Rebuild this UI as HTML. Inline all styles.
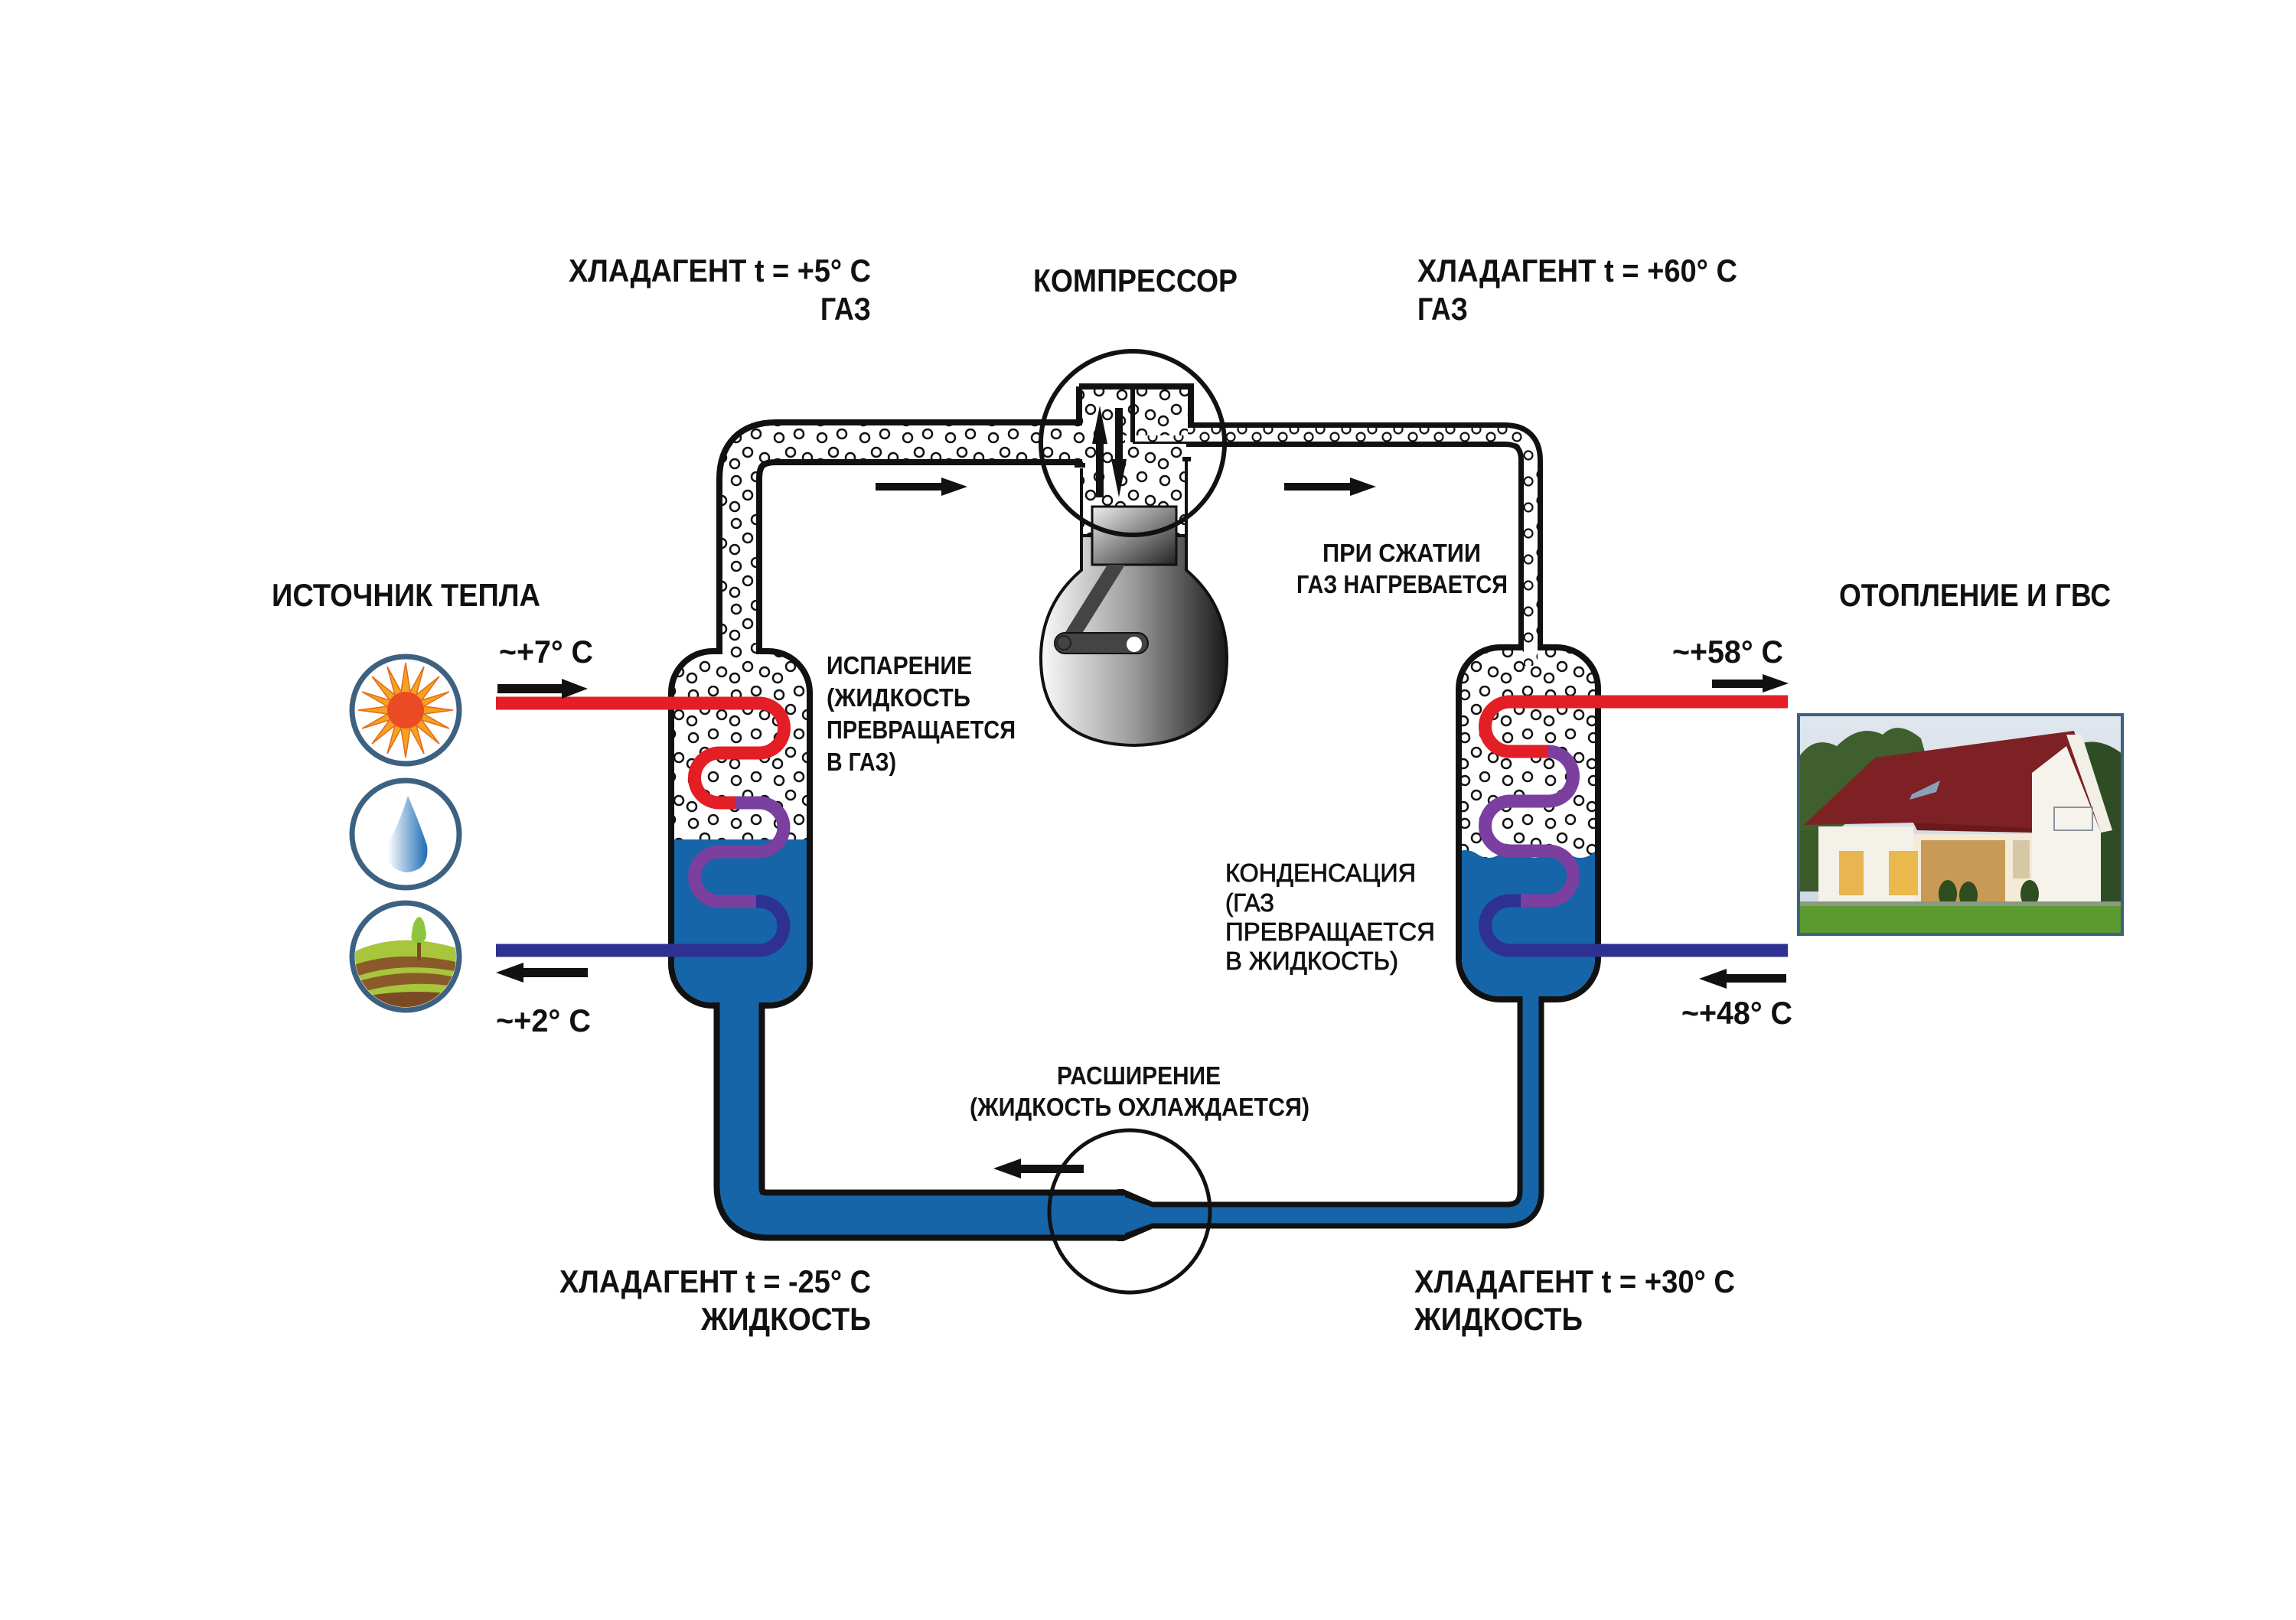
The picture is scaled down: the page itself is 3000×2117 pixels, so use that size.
<!DOCTYPE html>
<html><head><meta charset="utf-8"><style>
html,body{margin:0;padding:0;background:#fff}
svg{display:block}
text{font-family:"Liberation Sans Narrow","Liberation Sans",sans-serif;fill:#111}
.b{font-weight:bold}
</style></head><body>
<svg width="3000" height="2117" viewBox="0 0 3000 2117" xmlns="http://www.w3.org/2000/svg">
<defs>
<pattern id="bub" width="56" height="56" patternUnits="userSpaceOnUse">
<rect width="56" height="56" fill="#fff"/>
<g fill="#fff" stroke="#111" stroke-width="2.5">
<circle cx="10" cy="12" r="6"/><circle cx="36" cy="7" r="6"/><circle cx="25" cy="31" r="6"/><circle cx="47" cy="38" r="6"/><circle cx="8" cy="46" r="6"/>
</g></pattern>
<pattern id="bubs" width="34" height="34" patternUnits="userSpaceOnUse">
<rect width="34" height="34" fill="#fff"/>
<g fill="#fff" stroke="#111" stroke-width="2.2">
<circle cx="8" cy="8" r="5.5"/><circle cx="25" cy="17" r="5.5"/><circle cx="10" cy="27" r="5.5"/>
</g></pattern>
<linearGradient id="bulb" x1="0" x2="1" y1="0" y2="0"><stop offset="0" stop-color="#fafafa"/><stop offset="0.5" stop-color="#9a9a9a"/><stop offset="1" stop-color="#1a1a1a"/></linearGradient>
<linearGradient id="pist" x1="0" x2="1" y1="0" y2="1"><stop offset="0" stop-color="#eee"/><stop offset="1" stop-color="#222"/></linearGradient>
<linearGradient id="drop" x1="0" x2="1"><stop offset="0" stop-color="#fff"/><stop offset="1" stop-color="#1e6db5"/></linearGradient>
<linearGradient id="sky" x1="0" x2="0" y1="0" y2="1"><stop offset="0" stop-color="#dfe6ee"/><stop offset="1" stop-color="#cdd8e0"/></linearGradient>
<clipPath id="lv"><rect x="881" y="855" width="173" height="455" rx="50"/></clipPath>
<clipPath id="rv"><rect x="1910" y="850" width="174" height="452" rx="50"/></clipPath>
<clipPath id="ph"><rect x="2350" y="934" width="423" height="287"/></clipPath>
</defs>

<!-- gas pipes outline -->
<path d="M966 870 V626 Q966 578 1014 578 H1470" fill="none" stroke="#111" stroke-width="60"/>
<path d="M1480 568 H1966 Q2000 568 2000 602 V860" fill="none" stroke="#111" stroke-width="32"/>
<!-- liquid pipes outline -->
<path d="M966 1290 V1550 Q966 1588 1004 1588 H1468" fill="none" stroke="#111" stroke-width="67"/>
<path d="M1500 1588 H1968 Q2000 1588 2000 1556 V1290" fill="none" stroke="#111" stroke-width="35"/>
<polygon points="1460,1554 1468,1554 1505,1570 1505,1606 1468,1622 1460,1622" fill="#111"/>

<!-- vessels outline -->
<rect x="873" y="847" width="189" height="471" rx="58" fill="#111"/>
<rect x="1902" y="842" width="190" height="468" rx="58" fill="#111"/>
<!-- vessel interiors -->
<g clip-path="url(#lv)"><rect x="870" y="840" width="200" height="480" fill="url(#bub)"/><rect x="870" y="1097" width="200" height="230" fill="#1565a8"/></g>
<g clip-path="url(#rv)"><rect x="1900" y="840" width="200" height="480" fill="url(#bub)"/><path d="M1900 1116 q15 -10 30 0 t30 0 t30 0 t30 0 t30 0 t30 0 t30 0 V1320 H1900Z" fill="#1565a8"/></g>

<!-- gas pipe interiors -->
<path d="M966 880 V626 Q966 578 1014 578 H1470" fill="none" stroke="url(#bub)" stroke-width="44"/>
<path d="M1480 568 H1966 Q2000 568 2000 602 V870" fill="none" stroke="url(#bubs)" stroke-width="18"/>
<!-- liquid pipe interiors -->
<path d="M966 1300 V1550 Q966 1588 1004 1588 H1470" fill="none" stroke="#1565a8" stroke-width="51"/>
<path d="M1495 1588 H1968 Q2000 1588 2000 1556 V1300" fill="none" stroke="#1565a8" stroke-width="21"/>
<polygon points="1460,1563 1466,1563 1507,1578 1507,1598 1466,1613 1460,1613" fill="#1565a8"/>

<!-- left coil -->
<g fill="none" stroke-width="17">
<path d="M648 919 H992 A32.5 32.5 0 0 1 992 984 H940 A32.5 32.5 0 0 0 940 1049 H962" stroke="#e31e24"/>
<path d="M960 1049 H992 A32 32 0 0 1 992 1113 H940 A32.5 32.5 0 0 0 940 1178 H992" stroke="#7b3fa0"/>
<path d="M988 1178 H992 A32 32 0 0 1 992 1242 H648" stroke="#2e3192"/>
</g>
<!-- right coil -->
<g fill="none" stroke-width="17">
<path d="M2336 917 H1973 A32.5 32.5 0 0 0 1973 982 H2025" stroke="#e31e24"/>
<path d="M2023 982 A32.5 32.5 0 0 1 2023 1047 H1973 A32.5 32.5 0 0 0 1973 1112 H2023 A32.5 32.5 0 0 1 2023 1177 H1983" stroke="#7b3fa0"/>
<path d="M1987 1177 H1973 A32.5 32.5 0 0 0 1973 1242 H2336" stroke="#2e3192"/>
</g>

<!-- compressor -->
<path d="M1410 505 H1556 V555 M1410 505 V550" fill="none" stroke="#111" stroke-width="8"/>
<rect x="1414" y="509" width="138" height="60" fill="url(#bub)"/>
<rect x="1414" y="580" width="136" height="160" fill="url(#bub)"/>
<path d="M1413 612 V760 M1550 600 V760" stroke="#111" stroke-width="4" fill="none"/>
<path d="M1404 608 H1418 M1545 600 H1556" stroke="#111" stroke-width="6"/>
<line x1="1480" y1="505" x2="1480" y2="578" stroke="#111" stroke-width="6"/>
<polygon points="1437,530 1447,580 1442,580 1442,650 1432,650 1432,580 1427,580" fill="#111"/>
<polygon points="1462,650 1472,600 1467,600 1467,533 1457,533 1457,600 1452,600" fill="#111"/>
<path d="M1413 745 Q1360 790 1360 860 Q1360 972 1482 974 Q1603 972 1603 860 Q1603 790 1550 745 V700 H1413 Z" fill="url(#bulb)" stroke="#111" stroke-width="4"/>
<rect x="1427" y="662" width="110" height="76" fill="url(#pist)" stroke="#111" stroke-width="3"/>
<polygon points="1447,738 1470,738 1405,842 1382,842" fill="#444"/>
<rect x="1378" y="827" width="122" height="27" rx="13.5" fill="#444" stroke="#111" stroke-width="2"/>
<circle cx="1390" cy="840" r="9" fill="none" stroke="#222" stroke-width="2"/>
<circle cx="1482" cy="842" r="10" fill="#fff"/>
<circle cx="1480" cy="579" r="120" fill="none" stroke="#111" stroke-width="6"/>

<!-- expansion circle -->
<ellipse cx="1476" cy="1583" rx="105" ry="106" fill="none" stroke="#111" stroke-width="5"/>

<!-- flow arrows -->
<g fill="#111">
<rect x="1144" y="631" width="90" height="10"/><polygon points="1230,624 1264,636 1230,648"/>
<rect x="1678" y="631" width="90" height="10"/><polygon points="1764,624 1798,636 1764,648"/>
<rect x="1330" y="1522" width="86" height="11"/><polygon points="1334,1514 1298,1527 1334,1540"/>
<rect x="650" y="894" width="88" height="12"/><polygon points="734,887 768,900 734,913"/>
<rect x="680" y="1265" width="88" height="12"/><polygon points="684,1258 648,1271 684,1284"/>
<rect x="2237" y="888" width="70" height="11"/><polygon points="2303,881 2337,893 2303,905"/>
<rect x="2252" y="1273" width="82" height="11"/><polygon points="2256,1266 2220,1279 2256,1292"/>
</g>

<!-- heat source icons -->
<circle cx="530" cy="928" r="70" fill="#fff" stroke="#3d6180" stroke-width="7"/>
<g transform="translate(530,928)">
<polygon fill="#f6a21d" stroke="#e56a1c" stroke-width="1.5" points="0,-62 6,-24 24,-57 14,-20 44,-44 21,-13 57,-24 24,-5 62,0 24,5 57,24 21,13 44,44 14,20 24,57 6,24 0,62 -6,24 -24,57 -14,20 -44,44 -21,13 -57,24 -24,5 -62,0 -24,-5 -57,-24 -21,-13 -44,-44 -14,-20 -24,-57 -6,-24"/>
<circle r="24" fill="#ea4a24"/>
</g>
<circle cx="530" cy="1090" r="70" fill="#fff" stroke="#3d6180" stroke-width="7"/>
<path d="M533 1040 Q520 1080 508 1100 Q500 1135 530 1140 Q562 1138 558 1105 Q550 1080 533 1040Z" fill="url(#drop)"/>
<circle cx="530" cy="1250" r="70" fill="#fff" stroke="#3d6180" stroke-width="7"/>
<clipPath id="ec"><circle cx="530" cy="1250" r="66"/></clipPath>
<g clip-path="url(#ec)">
<path d="M460 1245 Q520 1215 600 1240 V1330 H460Z" fill="#a7c63b"/>
<path d="M460 1262 Q520 1240 600 1258 V1270 Q520 1255 460 1278Z" fill="#8b5a2b"/>
<path d="M460 1285 Q530 1262 600 1278 V1290 Q530 1278 460 1300Z" fill="#8b5a2b"/>
<path d="M460 1305 Q530 1290 600 1300 V1330 H460Z" fill="#7a4a24"/>
<rect x="545" y="1225" width="5" height="30" fill="#7a4a24"/>
<path d="M548 1198 Q540 1200 538 1220 Q535 1232 548 1232 Q560 1230 556 1215 Q554 1200 548 1198Z" fill="#8cc63f"/>
</g>

<!-- house photo -->
<g clip-path="url(#ph)">
<rect x="2350" y="934" width="423" height="287" fill="url(#sky)"/>
<path d="M2350 990 Q2370 960 2400 975 Q2430 945 2460 960 Q2480 940 2510 965 L2520 1000 L2350 1120Z" fill="#3f5f2f"/>
<path d="M2710 975 Q2740 960 2773 985 V1180 H2700Z" fill="#2f4d25"/>
<rect x="2350" y="1085" width="50" height="80" fill="#3a5a2a"/>
<polygon points="2357,1078 2450,990 2710,955 2748,1085 2655,1085 2500,1075" fill="#7d2124"/>
<polygon points="2500,1075 2505,1085 2655,1088 2660,1082" fill="#6a1a1c"/>
<polygon points="2700,960 2720,960 2760,1085 2745,1088" fill="#f2efe6"/>
<path d="M2376 1080 H2500 V1180 H2376Z" fill="#f4f1e8"/>
<path d="M2500 1090 H2655 V1182 H2500Z" fill="#f3ead7"/>
<path d="M2655 1010 L2700 975 L2745 1088 V1178 H2655Z" fill="#f6f3ec"/>
<rect x="2403" y="1112" width="32" height="58" fill="#e8b550"/>
<rect x="2468" y="1112" width="38" height="58" fill="#e9b94e"/>
<rect x="2510" y="1098" width="110" height="80" fill="#c89a56"/>
<rect x="2630" y="1098" width="22" height="50" fill="#d7c8a5"/>
<polygon points="2498,1038 2535,1020 2530,1035 2495,1045" fill="#8aa0b8"/>
<rect x="2684" y="1055" width="50" height="30" fill="none" stroke="#8a949c" stroke-width="2"/>
<ellipse cx="2545" cy="1168" rx="12" ry="18" fill="#2e4d20"/>
<ellipse cx="2572" cy="1170" rx="12" ry="18" fill="#2e4d20"/>
<ellipse cx="2652" cy="1168" rx="12" ry="18" fill="#2e4d20"/>
<rect x="2350" y="1178" width="423" height="43" fill="#5b9a2f"/>
<rect x="2350" y="1178" width="423" height="6" fill="#8a9a80"/>
</g>
<rect x="2350" y="934" width="423" height="287" fill="none" stroke="#3d6180" stroke-width="4"/>

<!-- texts -->
<g class="b" font-size="42">
<text class="b" x="743" y="368" textLength="395" lengthAdjust="spacingAndGlyphs">ХЛАДАГЕНТ t = +5° C</text>
<text class="b" x="1072" y="418" textLength="66" lengthAdjust="spacingAndGlyphs">ГАЗ</text>
<text class="b" x="1350" y="381" textLength="267" lengthAdjust="spacingAndGlyphs">КОМПРЕССОР</text>
<text class="b" x="1852" y="368" textLength="418" lengthAdjust="spacingAndGlyphs">ХЛАДАГЕНТ t = +60° C</text>
<text class="b" x="1852" y="418" textLength="66" lengthAdjust="spacingAndGlyphs">ГАЗ</text>
<text class="b" x="355" y="792" textLength="351" lengthAdjust="spacingAndGlyphs">ИСТОЧНИК ТЕПЛА</text>
<text class="b" x="2403" y="792" textLength="355" lengthAdjust="spacingAndGlyphs">ОТОПЛЕНИЕ И ГВС</text>
<text class="b" x="652" y="866" textLength="123" lengthAdjust="spacingAndGlyphs">~+7° C</text>
<text class="b" x="648" y="1348" textLength="124" lengthAdjust="spacingAndGlyphs">~+2° C</text>
<text class="b" x="2185" y="866" textLength="145" lengthAdjust="spacingAndGlyphs">~+58° C</text>
<text class="b" x="2197" y="1338" textLength="145" lengthAdjust="spacingAndGlyphs">~+48° C</text>
<text class="b" x="731" y="1689" textLength="407" lengthAdjust="spacingAndGlyphs">ХЛАДАГЕНТ t = -25° C</text>
<text class="b" x="916" y="1738" textLength="222" lengthAdjust="spacingAndGlyphs">ЖИДКОСТЬ</text>
<text class="b" x="1848" y="1689" textLength="419" lengthAdjust="spacingAndGlyphs">ХЛАДАГЕНТ t = +30° C</text>
<text class="b" x="1848" y="1738" textLength="220" lengthAdjust="spacingAndGlyphs">ЖИДКОСТЬ</text>
</g>
<g font-size="33">
<text class="b" x="1080" y="881" textLength="190" lengthAdjust="spacingAndGlyphs">ИСПАРЕНИЕ</text>
<text class="b" x="1080" y="923" textLength="188" lengthAdjust="spacingAndGlyphs">(ЖИДКОСТЬ</text>
<text class="b" x="1080" y="965" textLength="247" lengthAdjust="spacingAndGlyphs">ПРЕВРАЩАЕТСЯ</text>
<text class="b" x="1080" y="1007" textLength="91" lengthAdjust="spacingAndGlyphs">В ГАЗ)</text>
<text class="b" x="1728" y="734" textLength="207" lengthAdjust="spacingAndGlyphs">ПРИ СЖАТИИ</text>
<text class="b" x="1694" y="775" textLength="276" lengthAdjust="spacingAndGlyphs">ГАЗ НАГРЕВАЕТСЯ</text>
<text class="b" x="1381" y="1417" textLength="214" lengthAdjust="spacingAndGlyphs">РАСШИРЕНИЕ</text>
<text class="b" x="1267" y="1458" textLength="444" lengthAdjust="spacingAndGlyphs">(ЖИДКОСТЬ ОХЛАЖДАЕТСЯ)</text>
<text x="1601" y="1152" textLength="249" lengthAdjust="spacingAndGlyphs" stroke="#111" stroke-width="0.8">КОНДЕНСАЦИЯ</text>
<text x="1601" y="1191" textLength="64" lengthAdjust="spacingAndGlyphs" stroke="#111" stroke-width="0.8">(ГАЗ</text>
<text x="1601" y="1229" textLength="274" lengthAdjust="spacingAndGlyphs" stroke="#111" stroke-width="0.8">ПРЕВРАЩАЕТСЯ</text>
<text x="1601" y="1267" textLength="226" lengthAdjust="spacingAndGlyphs" stroke="#111" stroke-width="0.8">В ЖИДКОСТЬ)</text>
</g>
</svg>
</body></html>
